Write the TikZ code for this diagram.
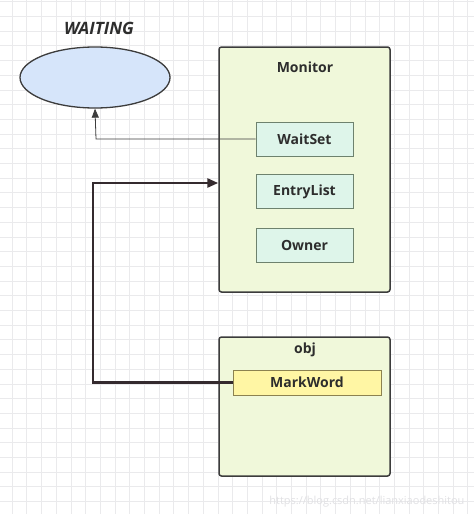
\documentclass[tikz,border=0pt]{standalone}
\usepackage{fontspec}
\setmainfont{Open Sans}
\usetikzlibrary{arrows.meta,shapes.geometric}
\definecolor{gridc}{RGB}{234,234,236}
\definecolor{boxfill}{RGB}{240,248,218}
\definecolor{mint}{RGB}{222,245,234}
\definecolor{mintline}{RGB}{110,130,110}
\definecolor{yel}{RGB}{255,246,164}
\definecolor{yelline}{RGB}{140,130,80}
\definecolor{ellfill}{RGB}{214,229,250}
\definecolor{dark}{RGB}{60,60,60}
\definecolor{thick}{RGB}{52,42,46}
\definecolor{txt}{RGB}{45,45,45}
\definecolor{wm}{RGB}{225,225,228}
\tikzset{
  container/.style={draw=dark, line width=1.5pt, fill=boxfill, rounded corners=2.5pt, inner sep=0pt},
  item/.style={draw=mintline, line width=1pt, fill=mint, minimum width=97pt, minimum height=34pt, inner sep=0pt, font=\fontsize{14}{16}\selectfont\bfseries, text=txt},
  markbox/.style={draw=yelline, line width=1pt, fill=yel, minimum width=148pt, minimum height=25pt, inner sep=0pt, font=\fontsize{14}{16}\selectfont\bfseries, text=txt},
  title/.style={font=\fontsize{14}{16}\selectfont\bfseries, text=txt},
  thin/.style={draw=dark, line width=0.8pt, -{Triangle[length=9pt,width=7pt]}},
  heavy/.style={draw=thick, line width=2.6pt, -{Triangle[length=11pt,width=9pt]}},
}
\begin{document}
\begin{tikzpicture}[x=1pt,y=-1pt]
\useasboundingbox (0,0) rectangle (474,514);
\fill[white] (0,0) rectangle (474,514);
% grid
\foreach \i in {0,...,32} {
  \draw[gridc, line width=0.6pt] ({12+14.7*(\i-1)},0) -- ({12+14.7*(\i-1)},514);
}
\foreach \j in {0,...,35} {
  \draw[gridc, line width=0.6pt] (0,{1.6+14.7*\j}) -- (474,{1.6+14.7*\j});
}
% WAITING
\node[font=\fontsize{17}{19}\selectfont\bfseries\itshape, text=txt] (wlabel) at (99,28) {WAITING};
\node[draw=dark, line width=1.3pt, fill=ellfill, ellipse, minimum width=150pt, minimum height=61pt, inner sep=0pt] (wait) at (95,77.5) {};
% Monitor
\node[container, minimum width=171pt, minimum height=245pt] (monitor) at (304.5,169.5) {};
\node[title] (montitle) at (305,67) {Monitor};
\node[item] (waitset) at (304.5,139) {WaitSet};
\node[item] (entry) at (304.5,191.5) {EntryList};
\node[item] (owner) at (304.5,245) {Owner};
% obj
\node[container, minimum width=171pt, minimum height=139pt] (obj) at (304.5,406.5) {};
\node[title] (objtitle) at (305,350) {obj};
\node[markbox] (mark) at (307,382.5) {MarkWord};
% connectors
\coordinate (c1) at (96,139);
\draw[thin] (waitset.west) -- (c1) -- (wait.south);
\coordinate (c2) at (93,382.5);
\coordinate (c3) at (93,183);
\draw[heavy] (mark.west) -- (c2) -- (c3) -- (monitor.west |- c3);
% watermark
\node[font=\fontsize{11}{13}\selectfont, text=wm, anchor=east] (wmark) at (468,502) {https://blog.csdn.net/lianxiaodeshitou};
\end{tikzpicture}
\end{document}
